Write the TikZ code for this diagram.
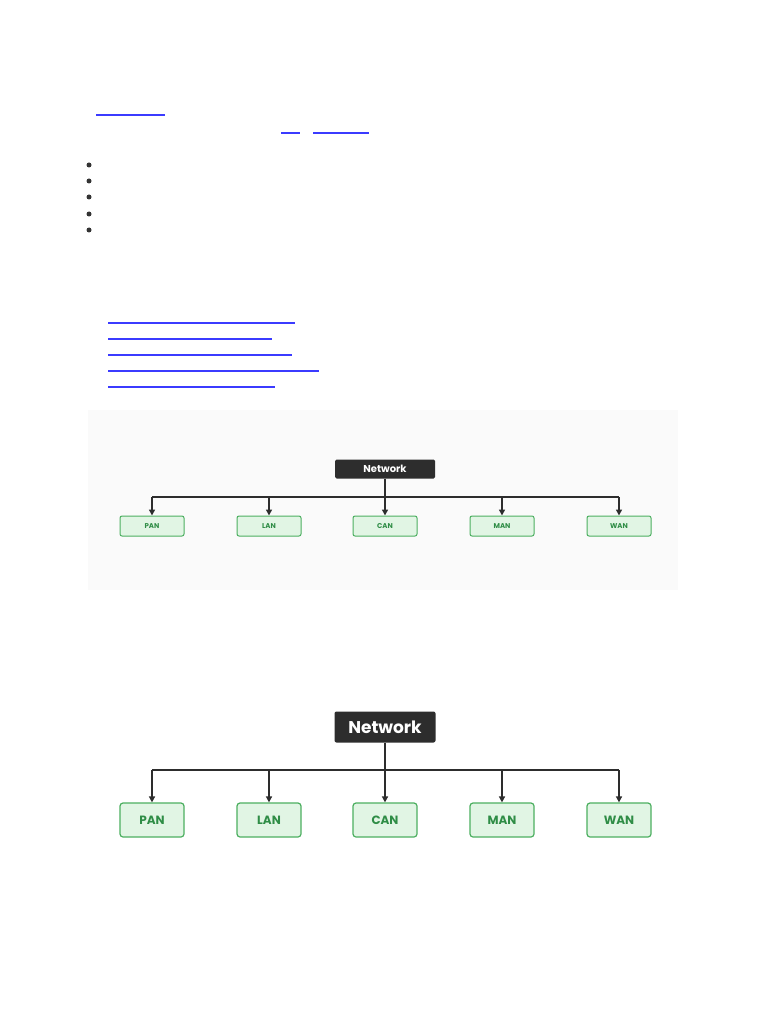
\documentclass[tikz,border=0pt]{standalone}
\usepackage{fontspec}
\setmainfont{Poppins}
\usetikzlibrary{arrows.meta,positioning}
\definecolor{gfgGreen}{HTML}{2F8D46}
\definecolor{gfgFill}{HTML}{E1F5E4}
\definecolor{gfgBorder}{HTML}{4CAF60}
\definecolor{linkBlue}{HTML}{3B3BFF}
\definecolor{darkBox}{HTML}{2D2D2D}
\begin{document}
\begin{tikzpicture}[x=1pt, y=-1pt,
		link/.style={linkBlue, line width=1.2pt},
		bullet/.style={circle, fill=black!80, inner sep=0pt, minimum size=5pt},
		rootSmall/.style={fill=darkBox, rounded corners=1.5pt, text=white, font=\bfseries\fontsize{10}{10}\selectfont,
				minimum width=100pt, minimum height=19pt, inner sep=0pt},
		leafSmall/.style={draw=gfgBorder, fill=gfgFill, line width=1pt, rounded corners=2pt, text=gfgGreen,
				font=\bfseries\fontsize{7}{7}\selectfont, minimum width=64pt, minimum height=20pt, inner sep=0pt},
		rootBig/.style={fill=darkBox, rounded corners=2pt, text=white, font=\bfseries\fontsize{17}{17}\selectfont,
				minimum width=101pt, minimum height=31pt, inner sep=0pt},
		leafBig/.style={draw=gfgBorder, fill=gfgFill, line width=1.2pt, rounded corners=3pt, text=gfgGreen,
				font=\bfseries\fontsize{12}{12}\selectfont, minimum width=64pt, minimum height=34pt, inner sep=0pt},
		bus/.style={line width=1.6pt, draw=darkBox},
		tip/.style={bus, -{Triangle[length=6pt, width=6pt]}}
	]
	\useasboundingbox (0,0) rectangle (768,1024);

	% links and bullets
	\draw[link] (96,115) -- (165,115);
	\draw[link] (281,133) -- (300,133);
	\draw[link] (313,133) -- (369,133);
	\foreach \y in {165,181,197,214,230}
		\node[bullet] (b\y) at (89,\y) {};
	\foreach \y/\xe in {323/295, 339/272, 355/292, 371/319, 387/275}
		\draw[link] (108,\y) -- (\xe,\y);

	% Small diagram
	\fill[black!2] (88,410) rectangle (678,590);
	\node[rootSmall] (N1) at (385,469) {Network};
	\coordinate (J1) at (385,497);
	\foreach \name/\x in {PAN/152, LAN/269, CAN/385, MAN/502, WAN/619}{
		\node[leafSmall] (S\name) at (\x,526) {\name};
		\coordinate (T\name) at (\x,497);
	}
	\draw[bus] (N1) -- (J1);
	\draw[bus] (TPAN) -- (TWAN);
	\foreach \name in {PAN,LAN,CAN,MAN,WAN}
		\draw[tip] (T\name) -- (S\name);

	% Big diagram
	\node[rootBig] (N2) at (385,727) {Network};
	\coordinate (J2) at (385,770);
	\foreach \name/\x in {PAN/152, LAN/269, CAN/385, MAN/502, WAN/619}{
		\node[leafBig] (L\name) at (\x,820) {\name};
		\coordinate (U\name) at (\x,770);
	}
	\draw[bus, line width=2.2pt] (N2) -- (J2);
	\draw[bus, line width=2.2pt] (UPAN) -- (UWAN);
	\foreach \name in {PAN,LAN,CAN,MAN,WAN}
		\draw[tip, line width=2.2pt] (U\name) -- (L\name);
\end{tikzpicture}
\end{document}
